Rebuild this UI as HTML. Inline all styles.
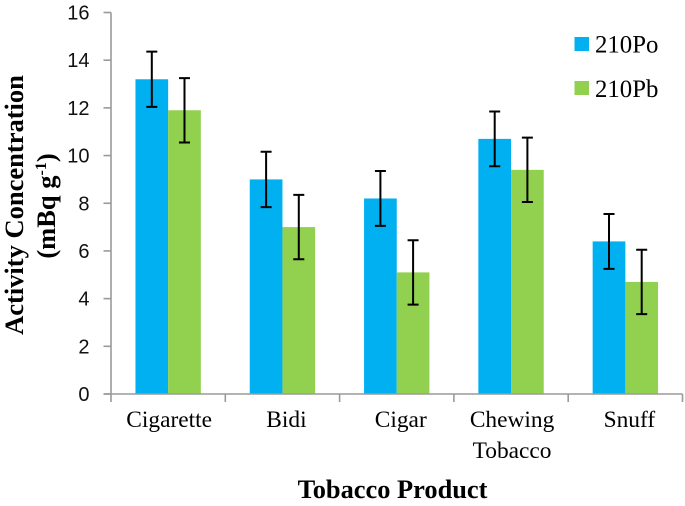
<!DOCTYPE html>
<html lang="en">
<head>
<meta charset="utf-8">
<title>Activity Concentration by Tobacco Product</title>
<style>
html,body{margin:0;padding:0;background:#fff;}
svg{display:block;}
.serif{font-family:"Liberation Serif",serif;fill:#000;}
.sans{font-family:"Liberation Sans",sans-serif;fill:#111;}
</style>
</head>
<body>
<svg id="chart" width="685" height="506" viewBox="0 0 685 506" xmlns="http://www.w3.org/2000/svg">
  <g id="bars"></g>
  <g id="errors"></g>
  <g id="axes"></g>
  <g id="labels"></g>
  <text class="serif" transform="translate(23,205) rotate(-90)" text-anchor="middle" font-size="26.5" font-weight="bold">Activity Concentration</text>
  <text class="serif" transform="translate(55,206) rotate(-90)" text-anchor="middle" font-size="26.5" font-weight="bold">(mBq g<tspan font-size="16" dy="-9">-1</tspan><tspan dy="9">)</tspan></text>
  <text class="serif" x="392.5" y="498" text-anchor="middle" font-size="26.4" font-weight="bold">Tobacco Product</text>
  <g>
    <rect x="574.5" y="37" width="14.5" height="14" fill="#00b0f0"></rect>
    <text class="serif" x="595" y="52.5" font-size="24.8">210Po</text>
    <rect x="574.5" y="81" width="14.5" height="14" fill="#92d050"></rect>
    <text class="serif" x="595" y="97" font-size="24.8">210Pb</text>
  </g>
</svg>
<script>
const categories = [["Cigarette"], ["Bidi"], ["Cigar"], ["Chewing", "Tobacco"], ["Snuff"]];
const po210 = [13.2, 9.0, 8.2, 10.7, 6.4];
const pb210 = [11.9, 7.0, 5.1, 9.4, 4.7];
const po210Err = [1.16, 1.16, 1.15, 1.15, 1.15];
const pb210Err = [1.35, 1.35, 1.35, 1.35, 1.35];
const yTicks = [0, 2, 4, 6, 8, 10, 12, 14, 16];

const NS = 'http://www.w3.org/2000/svg';
const plot = { left: 111, right: 682.5, top: 12.5, bottom: 394 };
const yMax = yTicks[yTicks.length - 1];
const band = (plot.right - plot.left) / categories.length;
const barW = band * 0.286;

function yScale(v) { return plot.bottom - (v / yMax) * (plot.bottom - plot.top); }
function xCenter(i) { return plot.left + band * (i + 0.5); }
function labelNudge(i) { return (i === 0 || i === 3) ? 1 : 4; }
function make(tag, attrs, parent) {
  const el = document.createElementNS(NS, tag);
  for (const k in attrs) el.setAttribute(k, attrs[k]);
  parent.appendChild(el);
  return el;
}

const barsG = document.getElementById('bars');
const errG = document.getElementById('errors');
const axesG = document.getElementById('axes');
const labelsG = document.getElementById('labels');

function drawSeries(values, errs, color, offset) {
  values.forEach(function (v, i) {
    const x = xCenter(i) + offset * barW;
    const bar = make('rect', { x: x, y: yScale(v), width: barW, height: plot.bottom - yScale(v), fill: color }, barsG);
    
    
    const cx = x + barW / 2;
    const hi = yScale(v + errs[i]);
    const lo = yScale(v - errs[i]);
    const err = make('path', {
      d: 'M' + cx + ' ' + hi + 'V' + lo + 'M' + (cx - 5.5) + ' ' + hi + 'H' + (cx + 5.5) + 'M' + (cx - 5.5) + ' ' + lo + 'H' + (cx + 5.5),
      stroke: '#000', 'stroke-width': 2, fill: 'none'
    }, errG);
    
    
  });
}
drawSeries(po210, po210Err, '#00b0f0', -1);
drawSeries(pb210, pb210Err, '#92d050', 0);

const axisColor = '#9a9a9a';
const yAxis = make('line', { x1: plot.left, x2: plot.left, y1: plot.top, y2: plot.bottom + 8, stroke: axisColor, 'stroke-width': 1.6 }, axesG);


const xAxis = make('line', { x1: plot.left - 7.5, x2: plot.right, y1: plot.bottom, y2: plot.bottom, stroke: axisColor, 'stroke-width': 1.6 }, axesG);



yTicks.forEach(function (t) {
  const tick = make('line', { x1: plot.left - 7.5, x2: plot.left, y1: yScale(t), y2: yScale(t), stroke: axisColor, 'stroke-width': 1.6 }, axesG);
  
  
  const label = make('text', { x: 89.5, y: yScale(t) + 7, 'text-anchor': 'end', 'font-size': 20, class: 'sans' }, labelsG);
  label.textContent = String(t);
  
  
});

categories.forEach(function (lines, i) {
  const tx = plot.left + band * (i + 1);
  const tick = make('line', { x1: tx, x2: tx, y1: plot.bottom, y2: plot.bottom + 8, stroke: axisColor, 'stroke-width': 1.6 }, axesG);
  
  
  lines.forEach(function (line, j) {
    const label = make('text', { x: xCenter(i) + labelNudge(i), y: 427 + j * 31, 'text-anchor': 'middle', 'font-size': 23.4, class: 'serif' }, labelsG);
    label.textContent = line;
    
    
  });
});
</script>
</body>
</html>
